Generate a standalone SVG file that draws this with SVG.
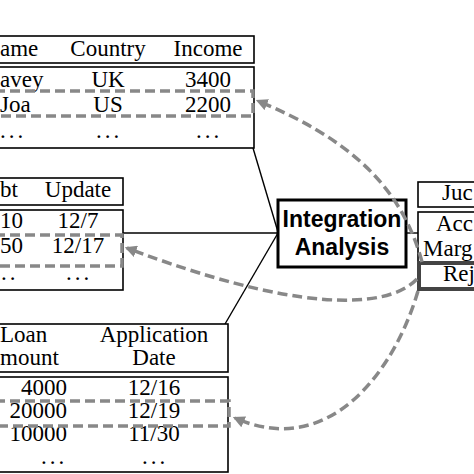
<svg xmlns="http://www.w3.org/2000/svg" width="474" height="474" viewBox="0 0 474 474">
<defs>
<style>
.t{font-family:"Liberation Serif","Times New Roman",serif;font-size:23px;fill:#000}
.m{text-anchor:middle}
.e{text-anchor:end}
.dots{letter-spacing:3px}
.box{fill:#fff;stroke:#000;stroke-width:1.6}
.sel{fill:none;stroke:#888;stroke-width:3.5;stroke-dasharray:10 5}
.ln{stroke:#000;stroke-width:1.4;fill:none}
.arc{fill:none;stroke:#888;stroke-width:3.5;stroke-dasharray:10 5}
.ia{font-family:"Liberation Sans",Arial,sans-serif;font-size:23px;font-weight:bold;text-anchor:middle;fill:#000}
</style>
<marker id="ah" viewBox="0 0 10 10" refX="8" refY="5" markerWidth="3.4" markerHeight="3.4" orient="auto" markerUnits="strokeWidth">
<path d="M0,0 L10,5 L0,10 z" fill="#888"/>
</marker>
</defs>
<rect width="474" height="474" fill="#fff"/>

<g id="connectors">
<path class="ln" d="M253,148 L278,232"/>
<path class="ln" d="M123,233 L278,233"/>
<path class="ln" d="M278,233 L225,324"/>
<path class="ln" d="M406,233 L418,233"/>
</g>

<g id="table-persons">
<rect class="box" x="-5" y="36" width="259" height="27"/>
<text class="t" x="0" y="56">ame</text>
<text class="t m" x="108" y="56">Country</text>
<text class="t m" x="208" y="56">Income</text>
<rect class="box" x="-5" y="67" width="259" height="81"/>
<text class="t" x="0" y="87">avey</text>
<text class="t m" x="108" y="87">UK</text>
<text class="t m" x="208" y="87">3400</text>
<text class="t" x="0" y="112">Joa</text>
<text class="t m" x="108" y="112">US</text>
<text class="t m" x="208" y="112">2200</text>
<text class="t dots" x="0" y="138">...</text>
<text class="t m dots" x="109" y="138">...</text>
<text class="t m dots" x="209" y="138">...</text>
<rect class="sel" x="-5" y="91" width="258" height="25"/>
</g>

<g id="table-debt">
<rect class="box" x="-5" y="178" width="128" height="27"/>
<text class="t" x="0" y="197">bt</text>
<text class="t m" x="78" y="197">Update</text>
<rect class="box" x="-5" y="210" width="128" height="80"/>
<text class="t" x="0" y="228">10</text>
<text class="t m" x="78" y="228">12/7</text>
<text class="t" x="0" y="253">50</text>
<text class="t m" x="78" y="253">12/17</text>
<text class="t dots" x="1" y="280">..</text>
<text class="t m dots" x="79" y="280">...</text>
<rect class="sel" x="-5" y="235" width="127" height="31"/>
</g>

<g id="table-loan">
<rect class="box" x="-5" y="324" width="233" height="48"/>
<text class="t" x="0" y="342">Loan</text>
<text class="t" x="0" y="365">mount</text>
<text class="t m" x="154" y="342">Application</text>
<text class="t m" x="154" y="365">Date</text>
<rect class="box" x="-5" y="377" width="233" height="95"/>
<text class="t e" x="67" y="395">4000</text>
<text class="t m" x="154" y="395">12/16</text>
<text class="t e" x="67" y="418">20000</text>
<text class="t m" x="154" y="418">12/19</text>
<text class="t e" x="67" y="441">10000</text>
<text class="t m" x="154" y="441">11/30</text>
<text class="t m dots" x="54" y="464">...</text>
<text class="t m dots" x="155" y="464">...</text>
<rect class="sel" x="-5" y="401" width="234" height="25"/>
</g>

<g id="integration-analysis">
<rect x="278" y="200" width="128" height="67" fill="#fff" stroke="#000" stroke-width="3"/>
<text class="ia" x="342" y="227">Integration</text>
<text class="ia" x="342" y="255">Analysis</text>
</g>

<g id="table-judgement">
<rect class="box" x="418" y="182" width="70" height="25"/>
<text class="t" x="442" y="200">Juc</text>
<rect class="box" x="418" y="212" width="70" height="78"/>
<text class="t" x="436" y="231">Acc</text>
<text class="t" x="423" y="256">Marg</text>
<rect x="419" y="263" width="70" height="26" fill="none" stroke="#444" stroke-width="4"/>
<text class="t" x="443" y="281">Rej</text>
</g>

<g id="arcs">
<path class="arc" marker-end="url(#ah)" d="M422,262 C400,180 340,135 258,101"/>
<path class="arc" marker-end="url(#ah)" d="M417,279 C385,312 290,310 127,248"/>
<path class="arc" marker-end="url(#ah)" d="M418,291 C395,370 330,460 235,418"/>
</g>
</svg>
